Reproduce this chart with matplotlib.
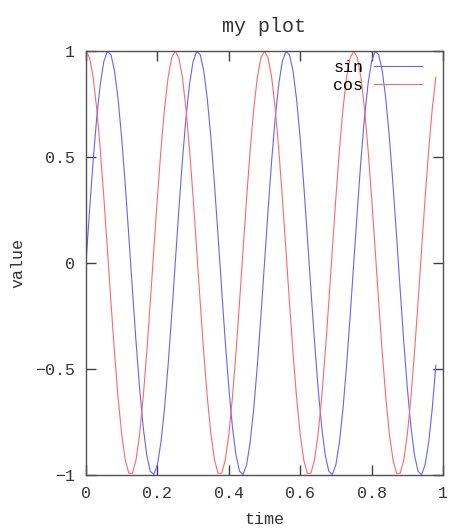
import numpy as np
import matplotlib
matplotlib.use("Agg")
import matplotlib.pyplot as plt

# sampled signal: t = 0 .. 0.98, step 0.01, 4 Hz
t_start = 0.0
t_stop = 0.98
t_step = 0.01
freq = 4.0

x_ticks = [0, 0.2, 0.4, 0.6, 0.8, 1]
x_tick_labels = ['0', '0.2', '0.4', '0.6', '0.8', '1']
y_ticks = [-1, -0.5, 0, 0.5, 1]
y_tick_labels = ['\u22121', '\u22120.5', '0', '0.5', '1']

time = np.arange(t_start, t_stop + t_step / 2, t_step)
sin_vals = np.sin(2 * np.pi * freq * time)
cos_vals = np.cos(2 * np.pi * freq * time)

plt.rcParams['font.family'] = ['Liberation Mono', 'DejaVu Sans Mono']
plt.rcParams['font.size'] = 12

fig = plt.figure(figsize=(4.74, 5.32), dpi=100)
ax = fig.add_axes([86 / 474, 1 - 475 / 532, (443 - 86) / 474, (475 - 51) / 532])

ax.plot(time, sin_vals, color='#6464ff', lw=0.8, label='sin')
ax.plot(time, cos_vals, color='#ff6868', lw=0.8, label='cos')

ax.set_xlim(0, 1)
ax.set_ylim(-1, 1)
ax.set_xticks(x_ticks)
ax.set_xticklabels(x_tick_labels)
ax.set_yticks(y_ticks)
ax.set_yticklabels(y_tick_labels)
ax.tick_params(direction='in', length=7, width=1, color='#404040',
               top=True, right=True, pad=8, labelcolor='#333333')
for s in ax.spines.values():
    s.set_color('#505050')
    s.set_linewidth(1)

ax.set_title('my plot', color='#333333', pad=14)
ax.set_xlabel('time', color='#333333', labelpad=8)
ax.set_ylabel('value', color='#333333', labelpad=7)

ax.legend(loc='upper right', frameon=False, markerfirst=False,
          handlelength=2.9, handletextpad=0.65, labelspacing=0.2,
          borderaxespad=0, fontsize=12, bbox_to_anchor=(0.961, 0.995))

fig.savefig('out.png', dpi=100)
